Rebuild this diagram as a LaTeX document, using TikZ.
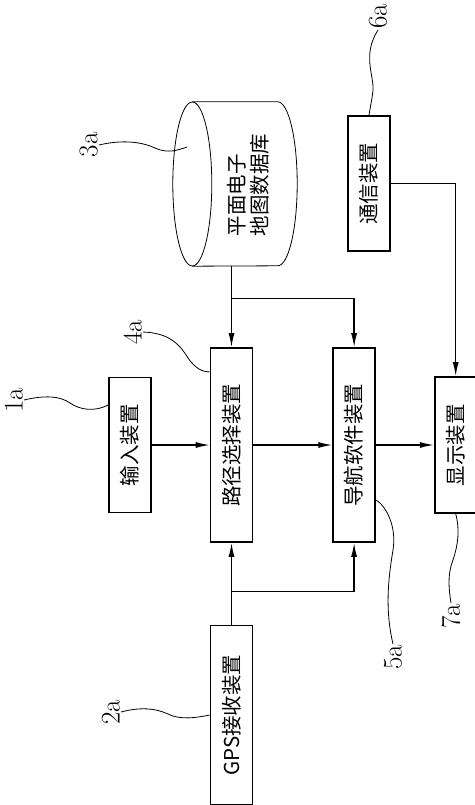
\documentclass[tikz,border=0pt]{standalone}
\usepackage{graphicx}
\usepackage{fontspec}
\newfontfamily\cjk{Noto Sans CJK SC}
\usetikzlibrary{positioning,arrows.meta}
\newcommand{\vtxt}[1]{\rotatebox{90}{#1}}

\begin{document}
\begin{tikzpicture}
	[x=1pt,y=-1pt,
	unit/.style={rectangle,draw,line width=1.6pt,minimum width=42pt,inner sep=0pt,font=\cjk\fontsize{20.5}{24}\selectfont},
	store/.style={rectangle,minimum width=124pt,minimum height=164pt,inner sep=0pt},
	storeline/.style={line width=0.8pt},
	flow/.style={line width=1.3pt,-{Latex[length=14pt,width=6pt]}},
	leader/.style={line width=0.8pt},
	tag/.style={rotate=90,inner sep=1pt,font=\fontsize{27}{30}\selectfont}]
	\useasboundingbox (0,0) rectangle (474,805);

	% units
	\node [unit,minimum height=194pt] (route) at (231.5,445) {\vtxt{路径选择装置}};
	\node [unit,minimum height=135pt] (input) [left=58pt of route] {\vtxt{输入装置}};
	\node [unit,minimum height=194pt] (navsw) [right=79pt of route] {\vtxt{导航软件装置}};
	\node [unit,minimum height=136pt] (display) [right=58pt of navsw] {\vtxt{显示装置}};
	\node [unit,minimum height=179pt] (gps) [below=82pt of route] {\vtxt{GPS接收装置}};
	\node [unit,minimum height=135pt] (comm) at (369,183.5) {\vtxt{通信装置}};

	% map database drum
	\node [store] (mapdb) at (235,184) {};
	\draw [storeline] ([xshift=19.5pt]mapdb.north west) -- ([xshift=-19.5pt]mapdb.north east)
		arc [start angle=90,end angle=-90,x radius=19.5pt,y radius=82pt] -- ([xshift=19.5pt]mapdb.south west);
	\draw [storeline] ([xshift=19.5pt]mapdb.west) ellipse [x radius=19.5pt,y radius=82pt];
	\node [rotate=90,align=left,inner sep=0pt,font=\cjk\fontsize{20.5}{23}\selectfont] (mapdbtext) at (248.5,185) {平面电子\\地图数据库};

	% flows
	\draw [flow] (input.east) -- (route.west);
	\draw [flow] (route.east) -- (navsw.west);
	\draw [flow] (navsw.east) -- (display.west);
	\draw [flow] (route.north |- mapdb.south) -- (route.north);
	\path (route.north) ++(0,-49) coordinate (split1);
	\draw [flow] (split1) -| (navsw.north);
	\draw [flow] (comm.east) -| (display.north);
	\draw [flow] (gps.north) -- (route.south);
	\path (gps.north) ++(0,-33) coordinate (split2);
	\draw [flow] (split2) -| (navsw.south);

	% reference labels
	\coordinate (p1a) at (input.west |- 0,405);
	\coordinate (p2a) at (gps.west |- 0,715);
	\coordinate (p3a) at (187,147);
	\coordinate (p4a) at (route.west |- 0,372);
	\coordinate (p5a) at (navsw.east |- 0,500);
	\node [tag,anchor=south] (lab1a) at (24,400) {1a};
	\node [tag,anchor=south] (lab2a) at (121,712) {2a};
	\node [tag,anchor=south] (lab3a) at (99,145) {3a};
	\node [tag,anchor=south] (lab4a) at (143,332) {4a};
	\node [tag,anchor=east] (lab5a) at (393,644) {5a};
	\node [tag,anchor=west] (lab6a) at (378,30) {6a};
	\node [tag,anchor=east] (lab7a) at (451,603) {7a};
	\draw [leader] (lab1a.south) .. controls (45,395) and (60,396) .. (70,403) .. controls (80,410) and (95,412) .. (p1a);
	\draw [leader] (lab2a.south) .. controls (140,707) and (155,708) .. (168,714) .. controls (180,720) and (195,718) .. (p2a);
	\draw [leader] (lab3a.south) .. controls (120,140) and (140,141) .. (155,148) .. controls (168,154) and (178,150) .. (p3a);
	\draw [leader] (lab4a.south) .. controls (170,333) and (180,345) .. (188,358) .. controls (195,368) and (202,372) .. (p4a);
	\draw [leader] (p5a) .. controls (385,505) and (397,525) .. (393,550) .. controls (388,580) and (385,610) .. (lab5a.east);
	\draw [leader] (lab6a.west) .. controls (362,55) and (374,75) .. (373,90) .. controls (372,100) and (370,108) .. (comm.north);
	\draw [leader] (display.south) .. controls (460,530) and (458,545) .. (453,560) .. controls (447,575) and (449,590) .. (lab7a.east);

\end{tikzpicture}
\end{document}
